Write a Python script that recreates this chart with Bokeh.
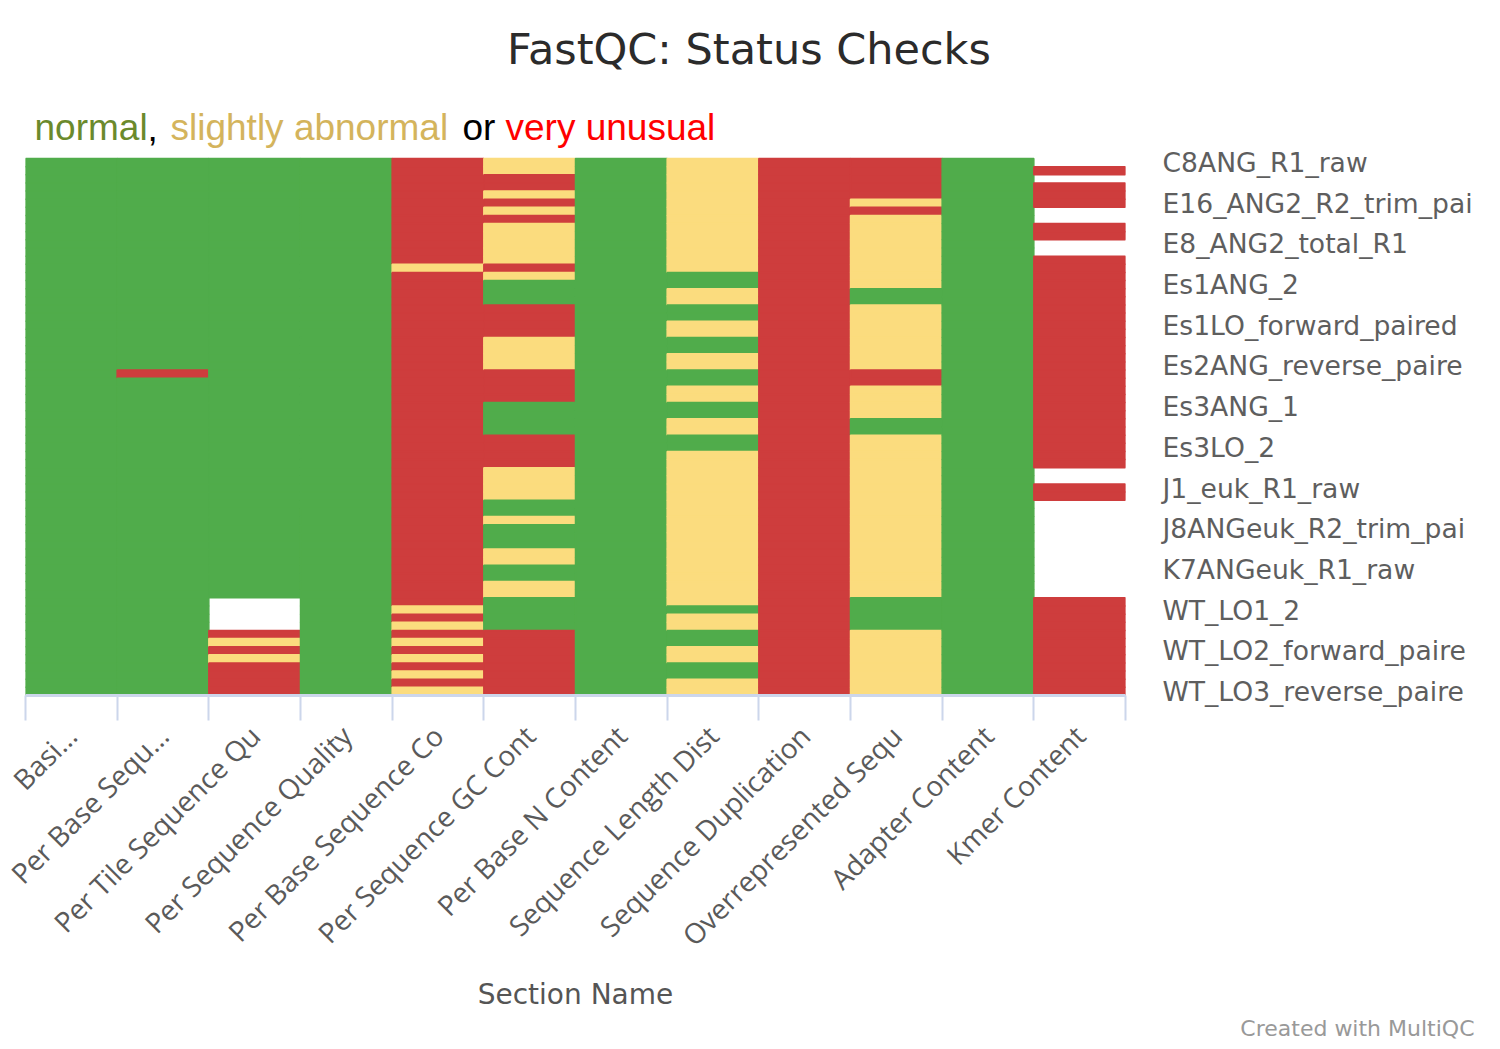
import math
from bokeh.plotting import figure
from bokeh.models import ColumnDataSource, FixedTicker, Range1d, Label, Title
from bokeh.embed import file_html
from bokeh.resources import INLINE

# ---- data -------------------------------------------------------------
section_labels = ["Basi…", "Per Base Sequ…", "Per Tile Sequence Qu",
                  "Per Sequence Quality", "Per Base Sequence Co",
                  "Per Sequence GC Cont", "Per Base N Content",
                  "Sequence Length Dist", "Sequence Duplication",
                  "Overrepresented Sequ", "Adapter Content", "Kmer Content"]

# visible sample labels (every 5th of 66 samples)
sample_label_rows = [0, 5, 10, 15, 20, 25, 30, 35, 40, 45, 50, 55, 60, 65]
sample_labels = ["C8ANG_R1_raw", "E16_ANG2_R2_trim_pai", "E8_ANG2_total_R1",
                 "Es1ANG_2", "Es1LO_forward_paired", "Es2ANG_reverse_paire",
                 "Es3ANG_1", "Es3LO_2", "J1_euk_R1_raw", "J8ANGeuk_R2_trim_pai",
                 "K7ANGeuk_R1_raw", "WT_LO1_2", "WT_LO2_forward_paire",
                 "WT_LO3_reverse_paire"]
n_samples = 66

# status per section, one char per sample (row 0 = top)
# p = pass, w = warn, f = fail, . = no data
basic_statistics       = "pppppppppp" "pppppppppp" "pppppppppp" "pppppppppp" "pppppppppp" "pppppppppp" "pppppp"
per_base_seq_quality   = "pppppppppp" "pppppppppp" "ppppppfppp" "pppppppppp" "pppppppppp" "pppppppppp" "pppppp"
per_tile_seq_quality   = "pppppppppp" "pppppppppp" "pppppppppp" "pppppppppp" "pppppppppp" "pppp....fw" "fwffff"
per_seq_quality        = "pppppppppp" "pppppppppp" "pppppppppp" "pppppppppp" "pppppppppp" "pppppppppp" "pppppp"
per_base_seq_content   = "ffffffffff" "fffwffffff" "ffffffffff" "ffffffffff" "ffffffffff" "fffffwfwfw" "fwfwfw"
per_seq_gc_content     = "wwffwfwfww" "wwwfwpppff" "ffwwwwffff" "ppppffffww" "wwppwpppww" "ppwwppppff" "ffffff"
per_base_n_content     = "pppppppppp" "pppppppppp" "pppppppppp" "pppppppppp" "pppppppppp" "pppppppppp" "pppppp"
seq_length_dist        = "wwwwwwwwww" "wwwwppwwpp" "wwppwwppww" "ppwwppwwww" "wwwwwwwwww" "wwwwwpwwpp" "wwppww"
seq_duplication        = "ffffffffff" "ffffffffff" "ffffffffff" "ffffffffff" "ffffffffff" "ffffffffff" "ffffff"
overrepresented_seqs   = "fffffwfwww" "wwwwwwppww" "wwwwwwffww" "wwppwwwwww" "wwwwwwwwww" "wwwwppppww" "wwwwww"
adapter_content        = "pppppppppp" "pppppppppp" "pppppppppp" "pppppppppp" "pppppppppp" "pppppppppp" "pppppp"
kmer_content           = ".f.fff..ff" "..ffffffff" "ffffffffff" "ffffffff.." "ff........" "....ffffff" "ffffff"

statuses = [basic_statistics, per_base_seq_quality, per_tile_seq_quality,
            per_seq_quality, per_base_seq_content, per_seq_gc_content,
            per_base_n_content, seq_length_dist, seq_duplication,
            overrepresented_seqs, adapter_content, kmer_content]

status_colors = {"p": "#50ac4b", "w": "#fbdc7e", "f": "#ce3d3d"}

# ---- build source -----------------------------------------------------
xs, ys, cols = [], [], []
for ci, s in enumerate(statuses):
    assert len(s) == n_samples
    for ri, ch in enumerate(s):
        if ch in status_colors:
            xs.append(ci)
            ys.append(ri)
            cols.append(status_colors[ch])
src = ColumnDataSource(dict(x=xs, y=ys, color=cols))

# ---- layout constants (pixels) ----------------------------------------
FIG_W, FIG_H = 1492, 1049
HEAT_LEFT, HEAT_TOP, HEAT_H = 25, 158, 537
BORDER_RIGHT, BORDER_BOTTOM = 367, 354
row_px = HEAT_H / n_samples
top_pad_rows = HEAT_TOP / row_px   # frame reaches the top of the figure

p = figure(width=FIG_W, height=FIG_H, output_backend="svg", toolbar_location=None,
           x_range=Range1d(-0.5, len(section_labels) - 0.5),
           y_range=Range1d(n_samples - 0.5, -0.5 - top_pad_rows),
           x_axis_location="below", y_axis_location="right",
           min_border_left=HEAT_LEFT, min_border_right=BORDER_RIGHT,
           min_border_top=0, min_border_bottom=BORDER_BOTTOM)
p.title.visible = False
p.outline_line_color = None
p.xgrid.visible = False
p.ygrid.visible = False
p.background_fill_color = "white"
p.border_fill_color = "white"

p.rect(x="x", y="y", width=1, height=1, source=src,
       fill_color="color", line_color="color", line_width=1.5)

# x axis
xa = p.xaxis[0]
xa.ticker = FixedTicker(ticks=list(range(len(section_labels))),
                        minor_ticks=[i - 0.5 for i in range(len(section_labels) + 1)])
xa.major_label_overrides = {i: lab for i, lab in enumerate(section_labels)}
xa.major_label_orientation = math.pi / 4
xa.major_label_text_font = "Open Sans"
xa.major_label_text_font_size = "28px"
xa.major_label_text_color = "#5a5a5a"
xa.major_label_standoff = 10
xa.major_tick_out = 0
xa.major_tick_in = 0
xa.major_tick_line_color = None
xa.minor_tick_out = 25
xa.minor_tick_in = 0
xa.minor_tick_line_color = "#ccd6eb"
xa.minor_tick_line_width = 2
xa.axis_line_color = "#ccd6eb"
xa.axis_line_width = 3
xa.axis_label = "Section Name"
xa.axis_label_text_font = "DejaVu Sans"
xa.axis_label_text_font_size = "28px"
xa.axis_label_text_font_style = "normal"
xa.axis_label_text_color = "#555555"
xa.axis_label_standoff = 8

# y axis
ya = p.yaxis[0]
ya.ticker = FixedTicker(ticks=sample_label_rows)
ya.major_label_overrides = {r: lab for r, lab in zip(sample_label_rows, sample_labels)}
ya.major_label_text_font = "DejaVu Sans"
ya.major_label_text_font_size = "26.6px"
ya.major_label_text_color = "#5e5e5e"
ya.major_label_standoff = 37
ya.major_tick_out = 0
ya.major_tick_in = 0
ya.minor_tick_out = 0
ya.minor_tick_in = 0
ya.major_tick_line_color = None
ya.minor_tick_line_color = None
ya.axis_line_color = None

# ---- titles (screen units relative to frame bottom-left) --------------
p.add_layout(Label(x=723.5, y=647, x_units="screen", y_units="screen",
                   text="FastQC: Status Checks", text_align="center",
                   text_baseline="alphabetic", text_font="DejaVu Sans",
                   text_font_size="43px", text_color="#2b2b2b"))

subtitle_parts = [("normal", "#6b8a2c", 9), (",", "#000000", 122),
                  ("slightly abnormal", "#d4b45c", 145), ("or", "#000000", 437),
                  ("very unusual", "#ff0000", 480)]
for txt, col, xpos in subtitle_parts:
    p.add_layout(Label(x=xpos, y=568, x_units="screen", y_units="screen",
                       text=txt, text_align="left", text_baseline="alphabetic",
                       text_font="Liberation Sans", text_font_size="37px",
                       text_color=col))

credit = Title(text="Created with MultiQC", align="right", offset=-349,
               standoff=0, text_font="DejaVu Sans", text_font_size="22px",
               text_font_style="normal", text_color="#999999")
p.add_layout(credit, "below")

open("out.html", "w").write(file_html(p, INLINE))
